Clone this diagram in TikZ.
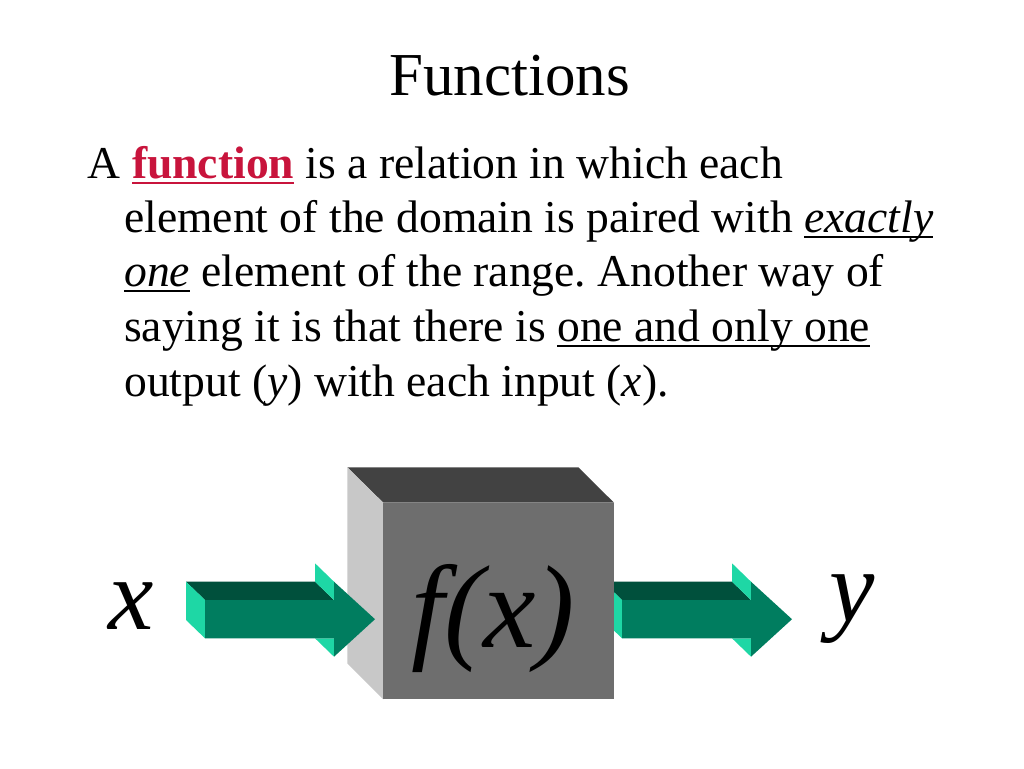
\documentclass[tikz,border=0pt]{standalone}
\usepackage{fontspec}
\setmainfont{Liberation Serif}
\usepackage{xcolor}
\usepackage{tikz}
\usetikzlibrary{positioning,calc}
\frenchspacing

\definecolor{fnred}{RGB}{200,20,60}
\definecolor{boxfront}{RGB}{110,110,110}
\definecolor{boxtop}{RGB}{66,66,66}
\definecolor{boxside}{RGB}{200,200,200}
\definecolor{arrfront}{RGB}{0,125,95}
\definecolor{arrtop}{RGB}{0,80,60}
\definecolor{arrlight}{RGB}{30,215,165}

% underline at a fixed depth, through descenders
\newcommand{\undl}[1]{\setbox0\hbox{#1}\rlap{\rule[-5.5pt]{\wd0}{2.2pt}}\box0\relax}

% 3D block arrow, front shaft starting at x = #1
\newcommand{\blockarrow}[1]{%
  \begin{scope}[shift={(#1,0)}]
    \fill[arrtop] (-19,581.7) -- (110,581.7) -- (129,600) -- (0,600) -- cycle;
    \fill[arrlight] (-19,581.7) -- (0,600) -- (0,638.3) -- (-19,620) -- cycle;
    \fill[arrlight] (110,563.3) -- (129,581.7) -- (129,600) -- (110,581.7) -- cycle;
    \fill[arrlight] (110,638.3) -- (129,656.7) -- (129,638.3) -- cycle;
    \fill[arrfront] (0,600) -- (129,600) -- (129,581.7) -- (170,619.2) -- (129,656.7) -- (129,638.3) -- (0,638.3) -- cycle;
  \end{scope}}

\begin{document}
\begin{tikzpicture}[x=1pt,y=-1pt,
    txt/.style={anchor=base west,inner sep=0pt,font=\fontsize{45.6}{54.6}\selectfont},
    bigvar/.style={anchor=base west,inner sep=0pt,font=\fontsize{102}{110}\selectfont\itshape}]
    \useasboundingbox (0,0) rectangle (1024,768);

    % Title
    \node[anchor=base,inner sep=0pt,font=\fontsize{61}{66}\selectfont] (title) at (509.5,95) {Functions};

    % Definition text
    \node[txt] (line1) at (87.5,178.3) {A \textcolor{fnred}{\undl{\textbf{function}}} is a relation in which each};
    \node[txt] (line2) at (124,232.7) {element of the domain is paired with \undl{\textit{exactly}}};
    \node[txt] (line3) at (124,286.7) {\undl{\textit{one}} element of the range. Another way of};
    \node[txt] (line4) at (124,341.7) {saying it is that there is \undl{one and only one}};
    \node[txt] (line5) at (124,396.7) {output (\textit{y}) with each input (\textit{x}).};

    % Output arrow (behind the box)
    \blockarrow{622}

    % The function box
    \fill[boxtop] (347.3,467.3) -- (578.3,467.3) -- (614,502.7) -- (383.3,502.7) -- cycle;
    \fill[boxside] (347.3,467.3) -- (383.3,502.7) -- (383.3,699.3) -- (347.3,663.3) -- cycle;
    \fill[boxfront] (383.3,502.7) rectangle (614,699.3);
    \node[anchor=base west,inner sep=0pt,font=\fontsize{118}{120}\selectfont\itshape] (fx) at (411,647) {f(x)};

    % Input arrow (in front of the box side)
    \blockarrow{205}

    % Input and output
    \node[bigvar] (xin) at (108,629.3) {x};
    \node[bigvar] (yout) at (829,621) {y};
\end{tikzpicture}
\end{document}
